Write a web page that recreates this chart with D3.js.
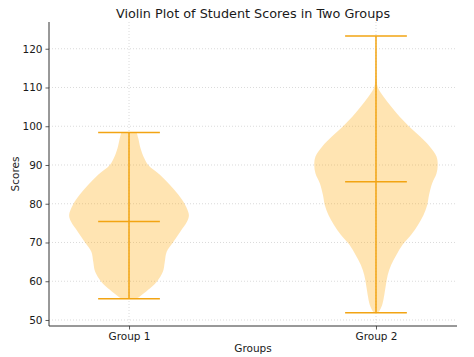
<!DOCTYPE html>
<html><head><meta charset="utf-8">
<script src="https://cdn.jsdelivr.net/npm/d3@7"></script>
<style>body{margin:0;background:#fff}svg{display:block}text{font-family:"DejaVu Sans",sans-serif;fill:#1a1a1a}</style>
</head><body><svg id="c" width="474" height="357"></svg>
<script>
const categories = ["Group 1", "Group 2"];
const yTicks = [50, 60, 70, 80, 90, 100, 110, 120];
const mins = [55.5, 51.9];
const medians = [75.4, 85.7];
const maxs = [98.4, 123.3];
// density profile: score level and relative half-width
const g1Levels  = [55.5, 56.0, 57.8, 59.9, 62.5, 65.1, 67.6, 70.2, 72.8, 75.4, 77.1, 79.7, 82.3, 84.9, 87.5, 90.0, 91.8, 94.4, 96.9, 98.4];
const g1Density = [0.12, 0.17, 0.31, 0.45, 0.55, 0.58, 0.61, 0.72, 0.83, 0.94, 0.97, 0.91, 0.80, 0.66, 0.50, 0.31, 0.245, 0.185, 0.15, 0.125];
const g2Levels  = [51.9, 52.1, 53.9, 56.5, 59.0, 61.6, 64.2, 66.8, 69.4, 72.0, 74.5, 77.1, 79.7, 82.3, 85.3, 87.8, 90.0, 92.2, 94.8, 97.4, 99.9, 102.5, 105.1, 107.7, 110.0, 113.0, 118.0, 123.3];
const g2Density = [0.03, 0.045, 0.10, 0.135, 0.16, 0.19, 0.245, 0.33, 0.43, 0.57, 0.68, 0.77, 0.83, 0.86, 0.91, 0.98, 1.00, 0.98, 0.87, 0.71, 0.54, 0.38, 0.245, 0.12, 0.03, 0.008, 0.003, 0.001];
const profiles = [[g1Levels, g1Density], [g2Levels, g2Density]];

const svg = d3.select("#c");
const L = 49, R = 457, T = 22, B = 326;
const x = d3.scaleLinear().domain([0.676, 2.328]).range([L, R]);
const y = d3.scaleLinear().domain([48.45, 126.9]).range([B, T]);
const halfMax = x(1.25) - x(1);
const capHalf = x(1.125) - x(1);

// grid
const g = svg.append("g");
g.selectAll(".hg").data(yTicks).join("line")
  .attr("x1", L).attr("x2", R).attr("y1", d => y(d)).attr("y2", d => y(d))
  .attr("stroke", "#d0d0d0").attr("stroke-width", 0.8).attr("stroke-dasharray", "1,2");
g.selectAll(".vg").data([1, 2]).join("line")
  .attr("x1", d => x(d)).attr("x2", d => x(d)).attr("y1", T).attr("y2", B)
  .attr("stroke", "#d0d0d0").attr("stroke-width", 0.8).attr("stroke-dasharray", "1,2");

const lineColor = "#f2a413";
profiles.forEach(([lv, dn], i) => {
  const pos = i + 1;
  const pts = lv.map((v, k) => ({v, w: dn[k]}));
  const area = d3.area()
    .y(d => y(d.v))
    .x0(d => x(pos) - d.w * halfMax)
    .x1(d => x(pos) + d.w * halfMax)
    .curve(d3.curveCatmullRom);
  svg.append("path").datum(pts).attr("d", area)
    .attr("fill", "#ffa500").attr("fill-opacity", 0.3);
  const lg = svg.append("g").attr("stroke", lineColor).attr("stroke-width", 1.5);
  lg.append("line").attr("x1", x(pos)).attr("x2", x(pos)).attr("y1", y(mins[i])).attr("y2", y(maxs[i]));
  [mins[i], medians[i], maxs[i]].forEach(v => {
    lg.append("line").attr("x1", x(pos) - capHalf).attr("x2", x(pos) + capHalf).attr("y1", y(v)).attr("y2", y(v));
  });
});

// axes
const ya = d3.axisLeft(y).tickValues(yTicks).tickSize(3.5).tickPadding(3);
const yg = svg.append("g").attr("transform", `translate(${L},0)`).call(ya);
yg.select(".domain").attr("d", `M0,${T}V${B}`);
const xa = d3.axisBottom(x).tickValues([1, 2]).tickFormat((d, i) => categories[i]).tickSize(3.5).tickPadding(3);
const xg = svg.append("g").attr("transform", `translate(0,${B})`).call(xa);
xg.select(".domain").attr("d", `M${L},0H${R}`);
[yg, xg].forEach(a => {
  a.selectAll("text").attr("font-size", 10.5).attr("font-family", "DejaVu Sans").attr("fill", "#1a1a1a");
  a.selectAll("line").attr("stroke", "#333").attr("stroke-width", 0.8);
  a.select(".domain").attr("stroke", "#333").attr("stroke-width", 1);
});

svg.append("text").attr("x", (L + R) / 2).attr("y", 18).attr("text-anchor", "middle")
  .attr("font-size", 12.8).text("Violin Plot of Student Scores in Two Groups");
svg.append("text").attr("x", (L + R) / 2).attr("y", 352).attr("text-anchor", "middle")
  .attr("font-size", 10.5).text("Groups");
svg.append("text").attr("transform", `translate(19,${(T + B) / 2}) rotate(-90)`).attr("text-anchor", "middle")
  .attr("font-size", 10.5).text("Scores");
</script></body></html>
